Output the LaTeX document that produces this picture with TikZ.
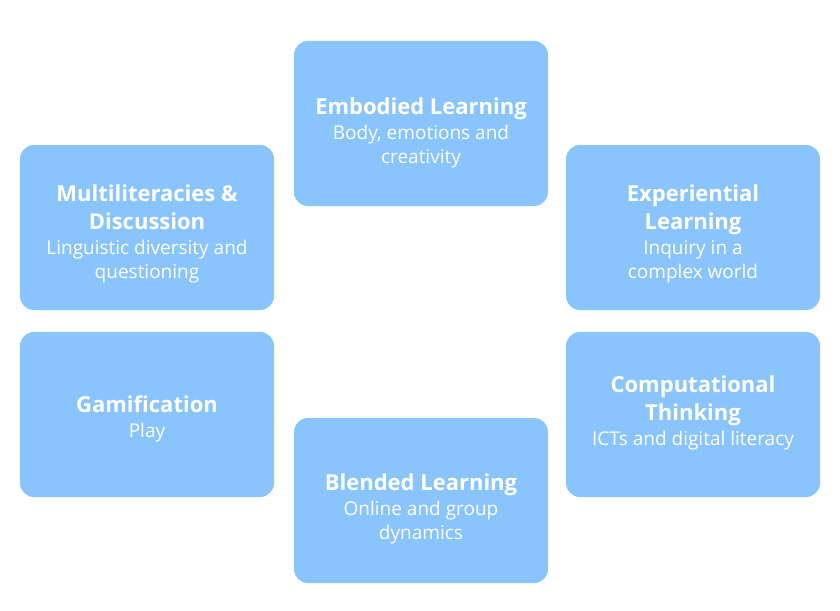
\documentclass[tikz,border=0pt]{standalone}
\usepackage{fontspec}
\setmainfont{Open Sans}
\definecolor{boxblue}{RGB}{137,196,252}
\newcommand\ttl[1]{{\fontsize{22}{24}\selectfont\bfseries #1}}
\begin{document}
\begin{tikzpicture}[x=1pt,y=-1pt,
  card/.style={fill=boxblue, rounded corners=14pt, draw=none,
    minimum width=254pt, minimum height=165pt, inner sep=0pt},
  lbl/.style={text=white, align=center, inner sep=0pt,
    font=\fontsize{19}{24}\selectfont},
]
\useasboundingbox[fill=white] (0,0) rectangle (840,610);
\node[card] (emb) at (421,123.5) {};
\node[card] (mul) at (147,227.5) {};
\node[card] (exp) at (693,227.5) {};
\node[card] (gam) at (147,414.5) {};
\node[card] (com) at (693,414.5) {};
\node[card] (ble) at (421,500.5) {};
\node[lbl] (embt) at ([yshift=-9.5pt]emb.center) {\ttl{Embodied Learning}\\[1pt] Body, emotions and\\creativity};
\node[lbl] (mult) at ([yshift=-6.5pt]mul.center) {\ttl{Multiliteracies \&}\\[4pt]\ttl{Discussion}\\[1pt] Linguistic diversity and\\questioning};
\node[lbl] (expt) at ([yshift=-6.5pt]exp.center) {\ttl{Experiential}\\[4pt]\ttl{Learning}\\[1pt] Inquiry in a\\complex world};
\node[lbl] (gamt) at ([yshift=-4pt]gam.center) {\ttl{Gamification}\\[1pt] Play};
\node[lbl] (comt) at ([yshift=2pt]com.center) {\ttl{Computational}\\[4pt]\ttl{Thinking}\\[1pt] ICTs and digital literacy};
\node[lbl] (blet) at ([yshift=-8pt]ble.center) {\ttl{Blended Learning}\\[1pt] Online and group\\dynamics};
\end{tikzpicture}
\end{document}
